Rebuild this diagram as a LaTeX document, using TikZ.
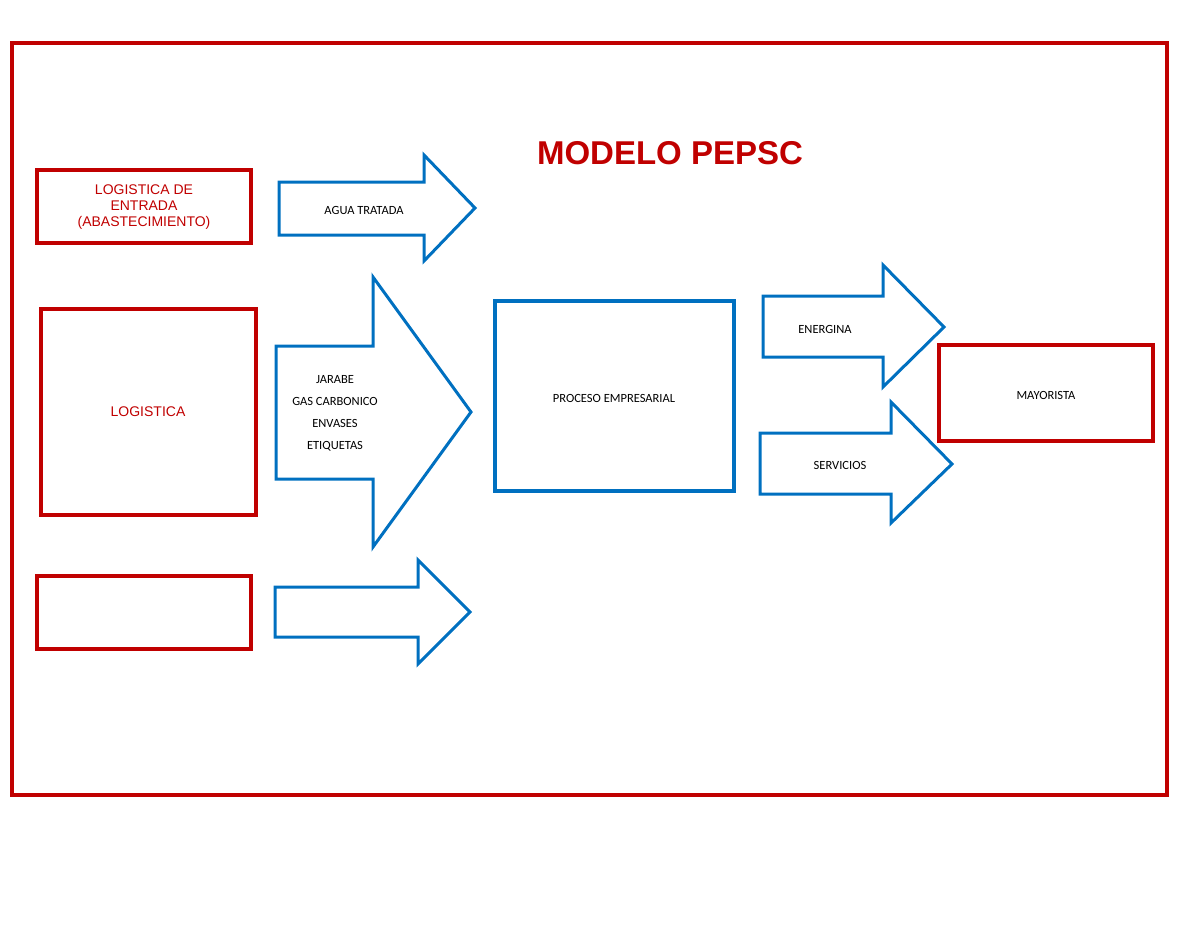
\documentclass[tikz,border=0pt]{standalone}
\usepackage{fontspec}
\setmainfont{Liberation Sans}
\newfontfamily\carl{Carlito}
\definecolor{rd}{HTML}{C00000}
\definecolor{bl}{HTML}{0070C0}
\begin{document}
\begin{tikzpicture}[x=1pt,y=-1pt,
 rbox/.style={draw=rd,line width=3.5pt},
 barrow/.style={draw=bl,line width=3pt,line join=miter},
 rtxt/.style={text=rd,font=\fontsize{14}{16}\selectfont,align=center},
 btxt/.style={font=\carl\fontsize{12.5}{22}\selectfont,align=center}]
\useasboundingbox (0,0) rectangle (1200,927);
\draw[draw=rd,line width=3.5pt] (12,43) rectangle (1167,795);
\node[text=rd,font=\bfseries\fontsize{33}{38}\selectfont] (title) at (670,153) {MODELO PEPSC};
\draw[rbox] (37,170) rectangle (251,243);
\node[rtxt] (l1) at (144,207) {LOGISTICA DE\\ENTRADA\\(ABASTECIMIENTO)};
\draw[rbox] (41,309) rectangle (256,515);
\node[rtxt] (l2) at (148,412) {LOGISTICA};
\draw[rbox] (37,576) rectangle (251,649);
\draw[barrow] (279,182) -- (424,182) -- (424,155) -- (475,208) -- (424,261) -- (424,235) -- (279,235) -- cycle;
\node[btxt] (a1) at (364,210) {AGUA TRATADA};
\draw[barrow] (276,346) -- (373,346) -- (373,277) -- (471,412) -- (373,547) -- (373,479) -- (276,479) -- cycle;
\node[btxt] (a2) at (335,413) {JARABE\\GAS CARBONICO\\ENVASES\\ETIQUETAS};
\draw[barrow] (275,587) -- (418,587) -- (418,560) -- (470,612) -- (418,664) -- (418,637) -- (275,637) -- cycle;
\draw[draw=bl,line width=3.5pt] (495,301) rectangle (734,491);
\node[btxt] (p) at (614,398) {PROCESO EMPRESARIAL};
\draw[barrow] (763,296) -- (883,296) -- (883,265) -- (944,327) -- (883,387) -- (883,357) -- (763,357) -- cycle;
\node[btxt] (e) at (825,329) {ENERGINA};
\draw[barrow] (760,433) -- (891,433) -- (891,402) -- (952,464) -- (891,523) -- (891,494) -- (760,494) -- cycle;
\node[btxt] (s) at (840,465) {SERVICIOS};
\draw[rbox] (939,345) rectangle (1153,441);
\node[btxt] (m) at (1046,395) {MAYORISTA};
\end{tikzpicture}
\end{document}
